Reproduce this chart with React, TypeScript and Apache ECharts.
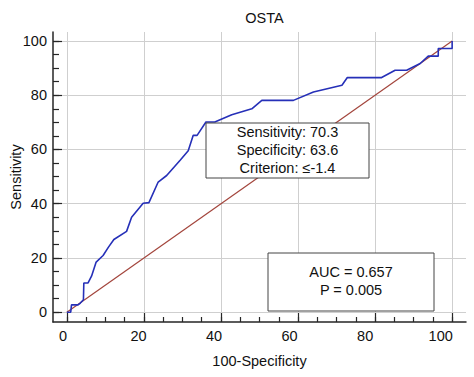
import React, { useEffect, useRef } from "react";
import * as echarts from "echarts";

const rocPoints: [number, number][] = [
  [0, 0], [1, 0], [1.2, 2.7], [2.9, 2.7], [3.5, 3.4], [4.3, 4.6], [4.4, 10.8], [5.5, 10.8],
  [6.4, 13.3], [7.6, 18.5], [9.4, 20.9], [10.8, 24], [12.2, 26.8], [15.5, 29.8], [16.8, 35],
  [19.8, 40.2], [21.3, 40.4], [23.7, 48], [25.9, 50.4], [29.4, 56], [31.5, 59.5], [32.8, 65.2],
  [33.8, 65.2], [36.1, 70.1], [38.4, 70.1], [42.8, 72.8], [48, 75], [50.6, 78.1], [58.8, 78.1],
  [64, 81.2], [71.4, 83.7], [72.8, 86.5], [81.7, 86.5], [85.2, 89.2], [88.2, 89.2], [91.7, 91.7],
  [93.8, 94.4], [96.4, 94.4], [96.4, 97.2], [100, 97.2], [100, 100],
];
const diagonal: [number, number][] = [[0, 0], [100, 100]];
const majorTicks = [0, 20, 40, 60, 80, 100];
const minorTicks = [0, 5, 10, 15, 20, 25, 30, 35, 40, 45, 50, 55, 60, 65, 70, 75, 80, 85, 90, 95, 100];
const titleText = "OSTA";
const xName = "100-Specificity";
const yName = "Sensitivity";
const box1Lines = ["Sensitivity: 70.3", "Specificity: 63.6", "Criterion: \u2264-1.4"];
const box2Lines = ["AUC = 0.657", "P = 0.005"];

const FONT = '"Liberation Sans", Arial, sans-serif';
const FS = 14.5;

export default function App() {
  const ref = useRef<HTMLDivElement>(null);
  useEffect(() => {
    document.body.style.margin = "0";
    if (!ref.current) return;
    const chart = echarts.init(ref.current, null, { renderer: "svg" });
    const axisMin = -3.6;
    const axisMaxX = 103.6;
    const axisMaxY = 103.3;
    const lineColor = "#262626";
    const gridColor = "#cfcfcf";
    const textColor = "#111";
    const hidden = { show: false };
    const xAxes = [
      {
        type: "value",
        position: "bottom",
        min: axisMin,
        max: axisMaxX,
        axisLine: { show: true, onZero: false, lineStyle: { color: lineColor, width: 1.5 } },
        axisTick: {
          show: true,
          inside: true,
          length: 5,
          customValues: minorTicks,
          lineStyle: { color: lineColor, width: 1.2 },
        },
        axisLabel: hidden,
        splitLine: hidden,
      },
      {
        type: "value",
        position: "bottom",
        min: axisMin,
        max: axisMaxX,
        axisLine: { show: false, onZero: false },
        axisTick: {
          show: true,
          inside: true,
          length: 9,
          customValues: majorTicks,
          lineStyle: { color: lineColor, width: 1.2 },
        },
        axisLabel: hidden,
        splitLine: { show: true, lineStyle: { color: gridColor, width: 1 } },
      },
      {
        // label axis: the reference's tick labels sit slightly left of their ticks
        type: "value",
        position: "bottom",
        min: -2.65,
        max: 106.7,
        name: xName,
        nameLocation: "middle",
        nameGap: 31,
        nameMoveOverlap: false,
        nameTextStyle: { fontFamily: FONT, fontSize: FS, color: textColor },
        axisLine: { show: false, onZero: false },
        axisTick: { show: false, customValues: majorTicks },
        axisLabel: {
          show: true,
          customValues: majorTicks,
          fontFamily: FONT,
          fontSize: FS,
          color: textColor,
          margin: 6,
        },
        splitLine: hidden,
      },
    ];
    const yAxes = [
      {
        type: "value",
        position: "left",
        min: axisMin,
        max: axisMaxY,
        axisLine: { show: true, onZero: false, lineStyle: { color: lineColor, width: 1.5 } },
        axisTick: {
          show: true,
          inside: true,
          length: 6,
          customValues: minorTicks,
          lineStyle: { color: lineColor, width: 1.2 },
        },
        axisLabel: hidden,
        splitLine: hidden,
      },
      {
        type: "value",
        position: "left",
        min: axisMin,
        max: axisMaxY,
        name: yName,
        nameLocation: "middle",
        nameGap: 30,
        nameMoveOverlap: false,
        nameTextStyle: { fontFamily: FONT, fontSize: FS, color: textColor },
        axisLine: { show: false, onZero: false },
        axisTick: {
          show: true,
          inside: true,
          length: 9,
          customValues: majorTicks,
          lineStyle: { color: lineColor, width: 1.2 },
        },
        axisLabel: {
          show: true,
          customValues: majorTicks,
          fontFamily: FONT,
          fontSize: FS,
          color: textColor,
          margin: 6,
        },
        splitLine: { show: true, lineStyle: { color: gridColor, width: 1 } },
      },
    ];
    chart.setOption({
      animation: false,
      backgroundColor: "#ffffff",
      title: {
        text: titleText,
        left: 259.5,
        textAlign: "center",
        top: 5,
        textStyle: { fontFamily: FONT, fontSize: FS, fontWeight: "normal", color: textColor },
      },
      grid: { left: 53, right: 8, top: 32, bottom: 55, containLabel: false, outerBoundsMode: "none" },
      xAxis: xAxes,
      yAxis: yAxes,
      series: [
        {
          type: "line",
          data: diagonal,
          xAxisIndex: 0,
          yAxisIndex: 0,
          showSymbol: false,
          lineStyle: { color: "#a3453c", width: 1.2 },
          z: 2,
        },
        {
          type: "line",
          data: rocPoints,
          xAxisIndex: 0,
          yAxisIndex: 0,
          showSymbol: false,
          lineStyle: { color: "#2630b8", width: 1.6 },
          z: 3,
        },
      ],
      graphic: [
        {
          type: "rect",
          shape: { x: 206, y: 123, width: 163, height: 55 },
          style: { fill: "#ffffff", stroke: "#444", lineWidth: 1 },
          z: 10,
        },
        {
          type: "text",
          x: 287.5,
          y: 150,
          style: {
            text: box1Lines.join("\n"),
            align: "center",
            verticalAlign: "middle",
            fontFamily: FONT,
            fontSize: FS,
            lineHeight: 18,
            fill: textColor,
          },
          z: 11,
        },
        {
          type: "rect",
          shape: { x: 268, y: 253, width: 166, height: 58 },
          style: { fill: "#ffffff", stroke: "#444", lineWidth: 1 },
          z: 10,
        },
        {
          type: "text",
          x: 351,
          y: 281,
          style: {
            text: box2Lines.join("\n"),
            align: "center",
            verticalAlign: "middle",
            fontFamily: FONT,
            fontSize: FS,
            lineHeight: 18.5,
            fill: textColor,
          },
          z: 11,
        },
      ],
    });
    return () => chart.dispose();
  }, []);
  return <div ref={ref} style={{ width: 474, height: 377 }} />;
}
